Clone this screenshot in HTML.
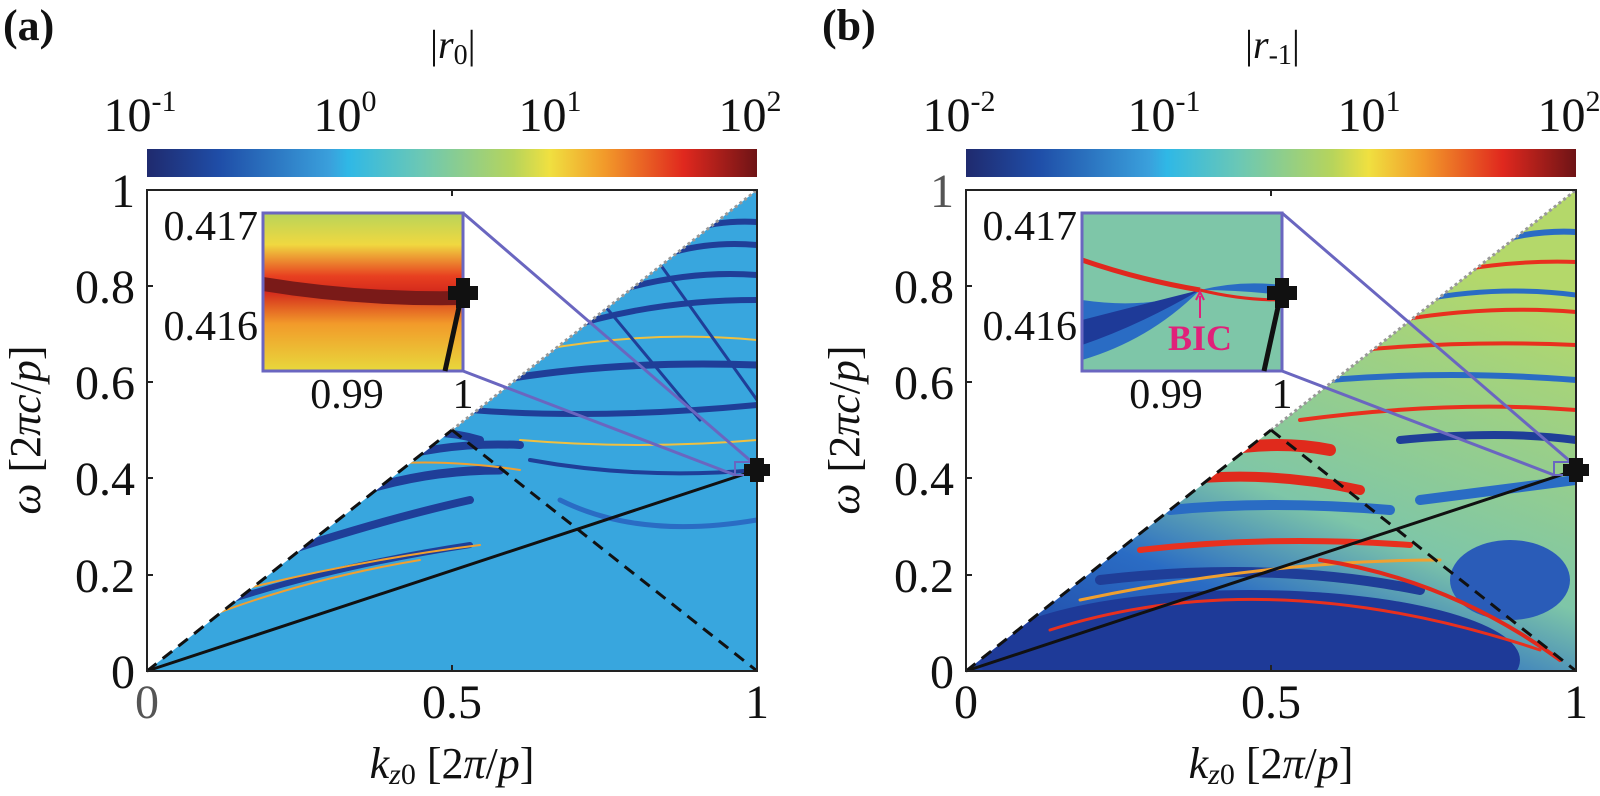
<!DOCTYPE html>
<html><head><meta charset="utf-8"><style>
body{margin:0;background:#fff}
svg{display:block}
svg text{font-family:"Liberation Serif","Times New Roman","DejaVu Serif",serif;fill:#111}
</style></head><body>
<svg width="1600" height="796" viewBox="0 0 1600 796" xmlns="http://www.w3.org/2000/svg" font-family="Liberation Serif, DejaVu Serif, serif">
<defs>
<linearGradient id="jet" x1="0" x2="1" y1="0" y2="0">
<stop offset="0" stop-color="#1f2a6e"/><stop offset="0.12" stop-color="#1f4ea8"/><stop offset="0.3" stop-color="#3aa0dc"/><stop offset="0.33" stop-color="#2fb8e6"/><stop offset="0.45" stop-color="#6cc8b4"/><stop offset="0.6" stop-color="#b6d45c"/><stop offset="0.66" stop-color="#f0e040"/><stop offset="0.75" stop-color="#f29a2a"/><stop offset="0.88" stop-color="#e0281e"/><stop offset="1" stop-color="#6e1416"/>
</linearGradient>
<linearGradient id="bgb" x1="0" y1="1" x2="0.5" y2="0">
<stop offset="0" stop-color="#1e3f9e"/><stop offset="0.3" stop-color="#2a6cc4"/><stop offset="0.5" stop-color="#7ec6a8"/><stop offset="1" stop-color="#b4d86a"/>
</linearGradient>
<linearGradient id="insa" x1="0" y1="0" x2="0" y2="1">
<stop offset="0" stop-color="#b8d45a"/><stop offset="0.2" stop-color="#f0d840"/><stop offset="0.4" stop-color="#e84020"/><stop offset="0.5" stop-color="#d42a1c"/><stop offset="0.7" stop-color="#f29a2a"/><stop offset="1" stop-color="#e8d83c"/>
</linearGradient>
<clipPath id="ca"><polygon points="147,671 757,190 757,671"/></clipPath>
<clipPath id="cb"><polygon points="966,671 1576,190 1576,671"/></clipPath>
</defs>

<!-- ============ PANEL A ============ -->
<text x="3" y="40" font-size="44" font-weight="bold">(a)</text>
<text x="430" y="58" font-size="40">|<tspan font-style="italic">r</tspan><tspan font-size="28" dy="6">0</tspan><tspan dy="-6">|</tspan></text>
<g font-size="48" text-anchor="middle">
<text x="140" y="131">10<tspan font-size="30" dy="-20">-1</tspan></text>
<text x="345" y="131">10<tspan font-size="30" dy="-20">0</tspan></text>
<text x="550" y="131">10<tspan font-size="30" dy="-20">1</tspan></text>
<text x="750" y="131">10<tspan font-size="30" dy="-20">2</tspan></text>
</g>
<rect x="147" y="149" width="610" height="28" fill="url(#jet)"/>

<g clip-path="url(#ca)">
<rect x="147" y="190" width="610" height="481" fill="#38a6de"/>
<g fill="none" stroke-linecap="round">
<path d="M230,600 Q340,565 470,545" stroke="#1f3e98" stroke-width="6"/>
<path d="M240,590 Q360,560 480,545" stroke="#f0a030" stroke-width="2"/>
<path d="M260,560 Q380,520 470,500" stroke="#1f3e98" stroke-width="8"/>
<path d="M290,520 Q390,470 500,470" stroke="#1f3e98" stroke-width="9"/>
<path d="M330,480 Q420,440 520,445" stroke="#1f3e98" stroke-width="8"/>
<path d="M340,470 Q420,455 520,470" stroke="#f0a030" stroke-width="2"/>
<path d="M380,440 Q430,425 480,440" stroke="#1f3e98" stroke-width="8"/>
<path d="M200,620 Q300,580 420,560" stroke="#f0a030" stroke-width="2"/>
<path d="M470,410 Q600,420 757,405" stroke="#1f3e98" stroke-width="6"/>
<path d="M500,380 Q620,360 757,365" stroke="#1f3e98" stroke-width="7"/>
<path d="M540,350 Q650,330 757,340" stroke="#f0c040" stroke-width="2"/>
<path d="M560,330 Q650,300 757,300" stroke="#1f3e98" stroke-width="6"/>
<path d="M620,290 Q690,270 757,275" stroke="#1f3e98" stroke-width="6"/>
<path d="M650,260 Q700,240 757,245" stroke="#1f3e98" stroke-width="6"/>
<path d="M690,230 Q720,220 757,222" stroke="#1f3e98" stroke-width="6"/>
<path d="M520,440 Q640,450 757,440" stroke="#f0c040" stroke-width="2"/>
<path d="M530,460 Q640,480 757,470" stroke="#1f3e98" stroke-width="4"/>
<path d="M600,300 L700,420" stroke="#1f3e98" stroke-width="3"/>
<path d="M650,250 L757,400" stroke="#1f3e98" stroke-width="3"/>
<path d="M560,500 Q640,540 757,520" stroke="#2a6cc4" stroke-width="5"/>
</g>
</g>
<line x1="147" y1="671" x2="452" y2="430" stroke="#111" stroke-width="3" stroke-dasharray="12,8"/>
<line x1="452" y1="430" x2="757" y2="190" stroke="#999" stroke-width="3" stroke-dasharray="3,3"/>
<line x1="452" y1="430" x2="757" y2="671" stroke="#111" stroke-width="3" stroke-dasharray="12,8"/>
<line x1="147" y1="671" x2="757" y2="470" stroke="#111" stroke-width="3"/>
<rect x="147" y="190" width="610" height="481" fill="none" stroke="#222" stroke-width="2"/>
<g stroke="#222" stroke-width="2">
<line x1="452" y1="671" x2="452" y2="665"/><line x1="452" y1="190" x2="452" y2="196"/>
<line x1="147" y1="575" x2="153" y2="575"/><line x1="147" y1="478" x2="153" y2="478"/><line x1="147" y1="382" x2="153" y2="382"/><line x1="147" y1="286" x2="153" y2="286"/>
</g>
<line x1="463" y1="213" x2="752" y2="462" stroke="#6a66c0" stroke-width="3"/>
<line x1="463" y1="371" x2="735" y2="475" stroke="#6a66c0" stroke-width="3"/>
<rect x="735" y="462" width="22" height="13" fill="none" stroke="#6a66c0" stroke-width="2"/>
<rect x="263" y="213" width="200" height="158" fill="url(#insa)"/>
<path d="M263,284 Q360,300 463,298" fill="none" stroke="#7a1a18" stroke-width="14"/>
<rect x="263" y="213" width="200" height="158" fill="none" stroke="#6a66c0" stroke-width="3"/>
<line x1="445" y1="371" x2="461" y2="298" stroke="#111" stroke-width="5"/>
<path d="M456,287h14v8h8v14h-8v8h-14v-8h-8v-14h8z" fill="#111" transform="translate(0,-9)"/>
<path d="M750,460h14v6h6v12h-6v6h-14v-6h-6v-12h6z" fill="#111" transform="translate(0,-2)"/>
<g font-size="42">
<text x="258" y="240" text-anchor="end">0.417</text>
<text x="258" y="340" text-anchor="end">0.416</text>
<text x="347" y="408" text-anchor="middle">0.99</text>
<text x="463" y="408" text-anchor="middle">1</text>
</g>
<g font-size="48" text-anchor="end">
<text x="135" y="688">0</text><text x="135" y="592">0.2</text><text x="135" y="495">0.4</text><text x="135" y="399">0.6</text><text x="135" y="303">0.8</text><text x="135" y="207">1</text>
</g>
<g font-size="48" text-anchor="middle">
<text x="147" y="718" fill="#555" style="fill:#555">0</text><text x="452" y="718">0.5</text><text x="757" y="718">1</text>
</g>
<text x="452" y="778" font-size="44" text-anchor="middle"><tspan font-style="italic">k</tspan><tspan font-style="italic" font-size="30" dy="6">z</tspan><tspan font-size="30">0</tspan><tspan dy="-6"> [2</tspan><tspan font-style="italic">π</tspan>/<tspan font-style="italic">p</tspan>]</text>
<text transform="translate(40,430) rotate(-90)" font-size="44" text-anchor="middle"><tspan font-style="italic">ω</tspan> [2<tspan font-style="italic">πc</tspan>/<tspan font-style="italic">p</tspan>]</text>

<!-- ============ PANEL B ============ -->
<text x="822" y="40" font-size="44" font-weight="bold">(b)</text>
<text x="1245" y="58" font-size="40">|<tspan font-style="italic">r</tspan><tspan font-size="28" dy="6">-1</tspan><tspan dy="-6">|</tspan></text>
<g font-size="48" text-anchor="middle">
<text x="959" y="131">10<tspan font-size="30" dy="-20">-2</tspan></text>
<text x="1164" y="131">10<tspan font-size="30" dy="-20">-1</tspan></text>
<text x="1369" y="131">10<tspan font-size="30" dy="-20">1</tspan></text>
<text x="1569" y="131">10<tspan font-size="30" dy="-20">2</tspan></text>
</g>
<rect x="966" y="149" width="610" height="28" fill="url(#jet)"/>

<g clip-path="url(#cb)">
<rect x="966" y="190" width="610" height="481" fill="url(#bgb)"/>
<ellipse cx="1250" cy="660" rx="270" ry="70" fill="#1e3a98"/>
<ellipse cx="1510" cy="580" rx="60" ry="40" fill="#2a5cb8"/>
<g fill="none" stroke-linecap="round">
<path d="M1220,450 Q1280,440 1330,450" stroke="#e02a1c" stroke-width="12"/>
<path d="M1180,480 Q1270,470 1360,490" stroke="#e02a1c" stroke-width="10"/>
<path d="M1170,510 Q1270,500 1390,510" stroke="#2a6cc4" stroke-width="10"/>
<path d="M1140,550 Q1270,535 1410,545" stroke="#e8301e" stroke-width="6"/>
<path d="M1100,580 Q1270,560 1420,590" stroke="#1f3e98" stroke-width="10"/>
<path d="M1080,600 Q1270,560 1440,560" stroke="#f0a030" stroke-width="3"/>
<path d="M1050,630 Q1270,560 1540,650" stroke="#e8301e" stroke-width="3"/>
<path d="M1320,560 Q1450,580 1560,660" stroke="#e02a1c" stroke-width="4"/>
<path d="M1300,420 Q1450,400 1576,410" stroke="#e8301e" stroke-width="4"/>
<path d="M1330,380 Q1450,370 1576,380" stroke="#2a6cc4" stroke-width="6"/>
<path d="M1360,350 Q1470,340 1576,345" stroke="#e8301e" stroke-width="4"/>
<path d="M1400,320 Q1490,305 1576,312" stroke="#e8301e" stroke-width="4"/>
<path d="M1420,300 Q1500,285 1576,295" stroke="#2a6cc4" stroke-width="5"/>
<path d="M1460,270 Q1520,260 1576,262" stroke="#e8301e" stroke-width="4"/>
<path d="M1500,240 Q1540,230 1576,232" stroke="#2a6cc4" stroke-width="6"/>
<path d="M1400,440 Q1500,430 1576,440" stroke="#1f3e98" stroke-width="8"/>
<path d="M1420,500 Q1500,490 1576,480" stroke="#2a6cc4" stroke-width="10"/>
</g>
</g>
<line x1="966" y1="671" x2="1271" y2="430" stroke="#111" stroke-width="3" stroke-dasharray="12,8"/>
<line x1="1271" y1="430" x2="1576" y2="190" stroke="#999" stroke-width="3" stroke-dasharray="3,3"/>
<line x1="1271" y1="430" x2="1576" y2="671" stroke="#111" stroke-width="3" stroke-dasharray="12,8"/>
<line x1="966" y1="671" x2="1576" y2="470" stroke="#111" stroke-width="3"/>
<rect x="966" y="190" width="610" height="481" fill="none" stroke="#222" stroke-width="2"/>
<g stroke="#222" stroke-width="2">
<line x1="1271" y1="671" x2="1271" y2="665"/><line x1="1271" y1="190" x2="1271" y2="196"/>
<line x1="966" y1="575" x2="972" y2="575"/><line x1="966" y1="478" x2="972" y2="478"/><line x1="966" y1="382" x2="972" y2="382"/><line x1="966" y1="286" x2="972" y2="286"/>
</g>
<line x1="1282" y1="213" x2="1571" y2="462" stroke="#6a66c0" stroke-width="3"/>
<line x1="1282" y1="371" x2="1554" y2="475" stroke="#6a66c0" stroke-width="3"/>
<rect x="1554" y="462" width="22" height="13" fill="none" stroke="#6a66c0" stroke-width="2"/>
<rect x="1082" y="213" width="200" height="158" fill="#7ec6a8"/>
<path d="M1082,300 Q1150,310 1200,290 Q1150,340 1082,360 Z" fill="#2a6cc4"/>
<path d="M1082,320 Q1140,305 1200,290 Q1140,325 1082,345Z" fill="#1e3a98"/>
<path d="M1200,290 Q1240,280 1282,285 L1282,295 Q1240,290 1200,290Z" fill="#2a6cc4"/>
<path d="M1082,260 Q1140,280 1200,290" fill="none" stroke="#e0281e" stroke-width="5"/>
<path d="M1200,290 Q1240,300 1282,300" fill="none" stroke="#e0281e" stroke-width="3"/>
<rect x="1082" y="213" width="200" height="158" fill="none" stroke="#6a66c0" stroke-width="3"/>
<line x1="1264" y1="371" x2="1280" y2="298" stroke="#111" stroke-width="5"/>
<path d="M1275,287h14v8h8v14h-8v8h-14v-8h-8v-14h8z" fill="#111" transform="translate(0,-9)"/>
<path d="M1569,460h14v6h6v12h-6v6h-14v-6h-6v-12h6z" fill="#111" transform="translate(0,-2)"/>
<line x1="1200" y1="318" x2="1200" y2="296" stroke="#e0207a" stroke-width="2"/>
<path d="M1196,300 L1200,292 L1204,300" fill="none" stroke="#e0207a" stroke-width="2"/>
<text x="1200" y="350" font-size="36" font-weight="bold" text-anchor="middle" style="fill:#e0207a">BIC</text>
<g font-size="42">
<text x="1077" y="240" text-anchor="end">0.417</text>
<text x="1077" y="340" text-anchor="end">0.416</text>
<text x="1166" y="408" text-anchor="middle">0.99</text>
<text x="1282" y="408" text-anchor="middle">1</text>
</g>
<g font-size="48" text-anchor="end">
<text x="954" y="688">0</text><text x="954" y="592">0.2</text><text x="954" y="495">0.4</text><text x="954" y="399">0.6</text><text x="954" y="303">0.8</text><text x="954" y="207" style="fill:#555">1</text>
</g>
<g font-size="48" text-anchor="middle">
<text x="966" y="718">0</text><text x="1271" y="718">0.5</text><text x="1576" y="718">1</text>
</g>
<text x="1271" y="778" font-size="44" text-anchor="middle"><tspan font-style="italic">k</tspan><tspan font-style="italic" font-size="30" dy="6">z</tspan><tspan font-size="30">0</tspan><tspan dy="-6"> [2</tspan><tspan font-style="italic">π</tspan>/<tspan font-style="italic">p</tspan>]</text>
<text transform="translate(859,430) rotate(-90)" font-size="44" text-anchor="middle"><tspan font-style="italic">ω</tspan> [2<tspan font-style="italic">πc</tspan>/<tspan font-style="italic">p</tspan>]</text>
</svg>
</body></html>
